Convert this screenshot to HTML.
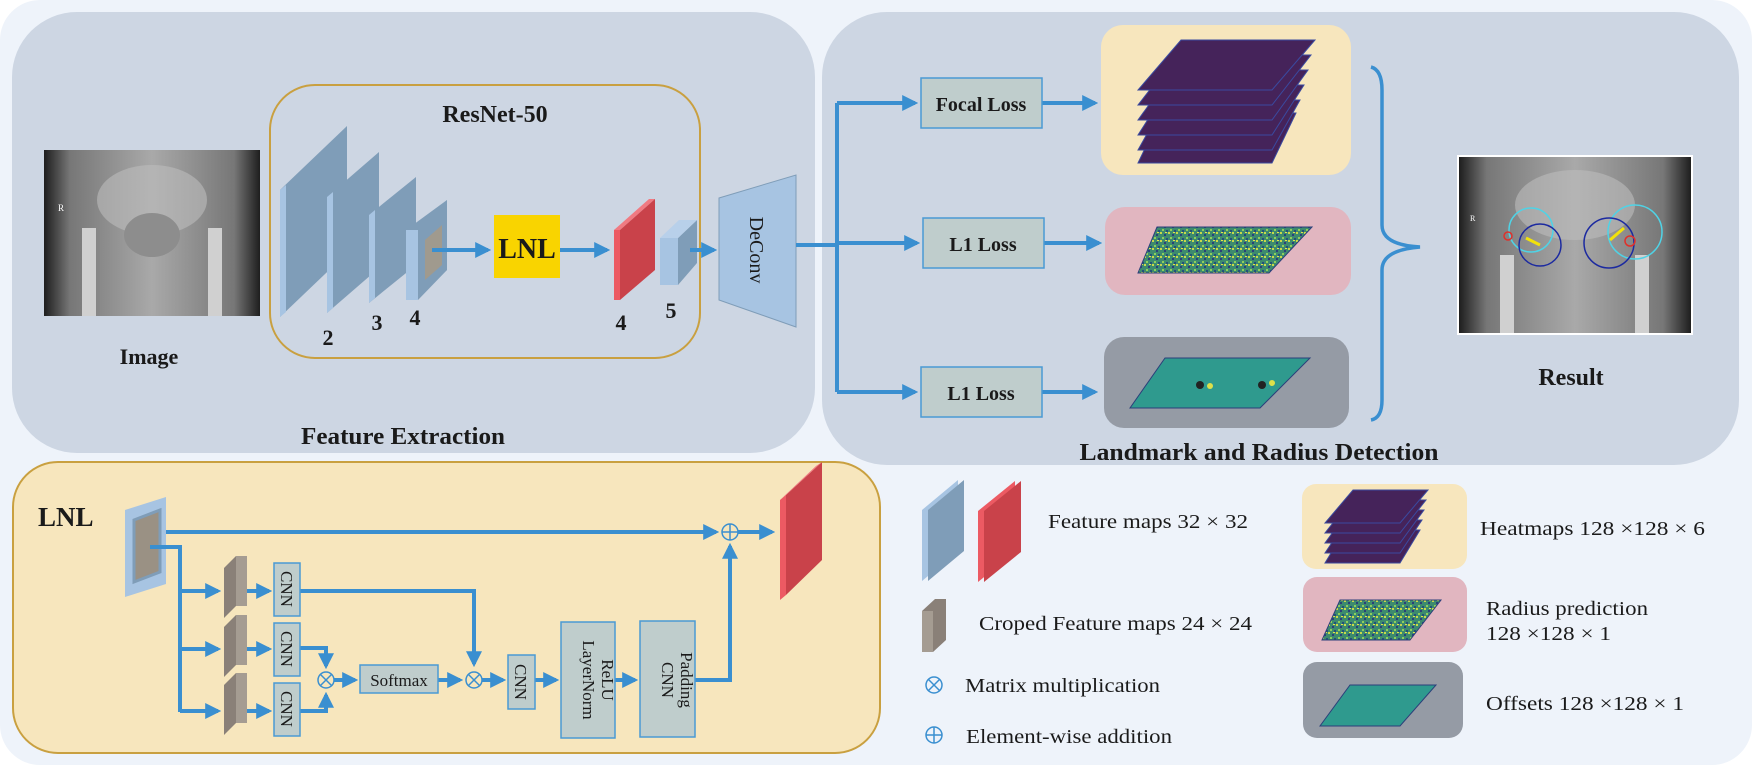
<!DOCTYPE html>
<html><head><meta charset="utf-8"><style>
html,body{margin:0;padding:0;background:#fff}
svg{display:block}
text{font-family:"Liberation Serif",serif;fill:#1a1a1a}
.b{font-weight:bold}
</style></head><body>
<svg width="1755" height="769" viewBox="0 0 1755 769" xmlns="http://www.w3.org/2000/svg">
<defs>
<marker id="ah" markerWidth="4" markerHeight="4" refX="3.2" refY="2" orient="auto" markerUnits="strokeWidth">
<path d="M0,0 L4,2 L0,4 z" fill="#3a8fd0"/></marker>
<pattern id="noise" width="8" height="8" patternUnits="userSpaceOnUse">
<rect width="8" height="8" fill="#3d8a6e"/><rect x="0" y="0" width="2" height="2" fill="#c8d84a"/><rect x="4" y="2" width="2" height="2" fill="#2b3f7a"/><rect x="2" y="5" width="2" height="2" fill="#8fcf5a"/><rect x="6" y="6" width="2" height="2" fill="#23507a"/><rect x="5" y="0" width="2" height="1" fill="#e3e24a"/>
</pattern>
<linearGradient id="xr" x1="0" x2="1"><stop offset="0" stop-color="#1e1e1e"/><stop offset="0.12" stop-color="#777"/><stop offset="0.5" stop-color="#a9a9a9"/><stop offset="0.88" stop-color="#777"/><stop offset="1" stop-color="#1e1e1e"/></linearGradient>
</defs>
<!-- outer bg -->
<rect x="0" y="0" width="1755" height="769" fill="#ffffff"/>
<rect x="0" y="0" width="1752" height="765" rx="40" fill="#eef3fa"/>
<!-- left panel -->
<rect x="12" y="12" width="803" height="441" rx="65" fill="#cdd6e3"/>
<!-- right panel -->
<rect x="822" y="12" width="917" height="453" rx="65" fill="#cdd6e3"/>
<!-- LNL panel -->
<rect x="13" y="462" width="867" height="291" rx="45" fill="#f7e6bd" stroke="#c9a040" stroke-width="2"/>

<!-- ResNet box -->
<rect x="270" y="85" width="430" height="273" rx="45" fill="none" stroke="#c9a040" stroke-width="2"/>
<text x="495" y="122" class="b" font-size="24" text-anchor="middle">ResNet-50</text>

<!-- X-ray input -->
<rect x="44" y="150" width="216" height="166" fill="url(#xr)"/>
<ellipse cx="152" cy="200" rx="55" ry="35" fill="#bcbcbc" opacity="0.6"/>
<ellipse cx="152" cy="235" rx="28" ry="22" fill="#8d8d8d"/>
<rect x="82" y="228" width="14" height="88" fill="#d0d0d0"/><rect x="208" y="228" width="14" height="88" fill="#d0d0d0"/>
<text x="58" y="211" font-family="Liberation Sans" font-size="9" fill="#fff" style="fill:#fff">R</text>
<text x="149" y="364" class="b" font-size="22" text-anchor="middle">Image</text>

<!-- layers -->
<polygon points="280,190 347,126 347,253 280,317" fill="#7f9db8"/><polygon points="280,190 286,185 286,312 280,317" fill="#a7c4e2"/>
<polygon points="327,197 379,152 379,268 327,313" fill="#7f9db8"/><polygon points="327,197 333,192 333,308 327,313" fill="#a7c4e2"/>
<polygon points="369,215 416,177 416,265 369,303" fill="#7f9db8"/><polygon points="369,215 375,210 375,298 369,303" fill="#a7c4e2"/>
<polygon points="406,230 447,200 447,270 406,300" fill="#7f9db8"/><rect x="406" y="230" width="12" height="70" fill="#a7c4e2"/>
<polygon points="418,230 447,200 447,270 418,300" fill="#7f9db8"/>
<polygon points="425,240 442,225 442,265 425,280" fill="#a09a8e"/>
<text x="328" y="345" class="b" font-size="22" text-anchor="middle">2</text>
<text x="377" y="330" class="b" font-size="22" text-anchor="middle">3</text>
<text x="415" y="325" class="b" font-size="22" text-anchor="middle">4</text>
<text x="621" y="330" class="b" font-size="22" text-anchor="middle">4</text>
<text x="671" y="318" class="b" font-size="22" text-anchor="middle">5</text>
<line x1="432" y1="250" x2="488" y2="250" stroke="#3a8fd0" stroke-width="4" marker-end="url(#ah)"/>
<rect x="494" y="215" width="66" height="63" fill="#f9d400"/>
<text x="527" y="258" class="b" font-size="28" text-anchor="middle">LNL</text>
<line x1="560" y1="250" x2="607" y2="250" stroke="#3a8fd0" stroke-width="4" marker-end="url(#ah)"/>
<polygon points="614,230 620,226 620,300 614,300" fill="#ec5a63"/>
<polygon points="614,230 649,199 655,199 620,230" fill="#f07a82"/>
<polygon points="620,230 655,199 655,270 620,300" fill="#c9424a"/>
<rect x="660" y="238" width="18" height="47" fill="#a7c4e2"/>
<polygon points="678,238 697,220 697,263 678,285" fill="#7f9db8"/>
<polygon points="660,238 678,238 697,220 679,220" fill="#b8d0ea"/>
<line x1="690" y1="250" x2="714" y2="250" stroke="#3a8fd0" stroke-width="4" marker-end="url(#ah)"/>
<!-- DeConv -->
<polygon points="719,198 796,175 796,327 719,300" fill="#a7c4e2" stroke="#7f9db8" stroke-width="1"/>
<text transform="translate(750,250) rotate(90)" font-size="20" text-anchor="middle">DeConv</text>
<text x="403" y="444" class="b" font-size="24" text-anchor="middle" textLength="204" lengthAdjust="spacingAndGlyphs">Feature Extraction</text>

<!-- branches -->
<g stroke="#3a8fd0" stroke-width="4" fill="none">
<polyline points="796,245 837,245"/>
<line x1="837" y1="103" x2="837" y2="392"/>
<line x1="837" y1="103" x2="915" y2="103" marker-end="url(#ah)"/>
<line x1="837" y1="243" x2="917" y2="243" marker-end="url(#ah)"/>
<line x1="837" y1="392" x2="915" y2="392" marker-end="url(#ah)"/>
<line x1="1042" y1="103" x2="1095" y2="103" marker-end="url(#ah)"/>
<line x1="1044" y1="243" x2="1099" y2="243" marker-end="url(#ah)"/>
<line x1="1042" y1="392" x2="1095" y2="392" marker-end="url(#ah)"/>
</g>
<g fill="#bfcdcc" stroke="#4a9ad4" stroke-width="1.5">
<rect x="921" y="78" width="121" height="50"/>
<rect x="923" y="218" width="121" height="50"/>
<rect x="921" y="367" width="121" height="50"/>
</g>
<text x="981" y="111" class="b" font-size="20" text-anchor="middle">Focal Loss</text>
<text x="983" y="251" class="b" font-size="20" text-anchor="middle">L1 Loss</text>
<text x="981" y="400" class="b" font-size="20" text-anchor="middle">L1 Loss</text>

<!-- output cards -->
<rect x="1101" y="25" width="250" height="150" rx="22" fill="#f7e6bd"/>
<rect x="1105" y="207" width="246" height="88" rx="20" fill="#e1b6c0"/>
<rect x="1104" y="337" width="245" height="91" rx="20" fill="#959ba5"/>
<g fill="#45235a" stroke="#3a4aa0" stroke-width="1">
<polygon points="1138,163 1272,163 1296,113 1162,113"/>
<polygon points="1138,150 1272,150 1300,100 1166,100"/>
<polygon points="1138,135 1272,135 1304,85 1170,85"/>
<polygon points="1138,120 1272,120 1308,70 1174,70"/>
<polygon points="1138,105 1272,105 1311,55 1177,55"/>
<polygon points="1138,90 1272,90 1315,40 1181,40"/>
</g>
<polygon points="1138,273 1269,273 1312,227 1157,227" fill="url(#noise)" stroke="#2b3f7a"/>
<polygon points="1130,408 1260,408 1310,358 1165,358" fill="#2f9a8e" stroke="#2b3f7a"/>
<circle cx="1200" cy="385" r="4" fill="#222"/><circle cx="1210" cy="386" r="3" fill="#dde04a"/><circle cx="1262" cy="385" r="4" fill="#222"/><circle cx="1272" cy="383" r="3" fill="#dde04a"/>
<!-- brace -->
<path d="M1371,67 Q1382,70 1382,90 L1382,225 Q1382,245 1420,247 Q1382,250 1382,270 L1382,400 Q1382,418 1371,420" fill="none" stroke="#3a8fd0" stroke-width="3.5"/>
<!-- result image -->
<rect x="1457" y="155" width="236" height="180" fill="#fff"/>
<rect x="1459" y="157" width="232" height="176" fill="url(#xr)"/>
<ellipse cx="1575" cy="205" rx="60" ry="35" fill="#bcbcbc" opacity="0.6"/>
<rect x="1500" y="255" width="14" height="78" fill="#d0d0d0"/><rect x="1635" y="255" width="14" height="78" fill="#d0d0d0"/>
<g fill="none" stroke-width="1.5">
<circle cx="1531" cy="230" r="22" stroke="#4fd3e6"/>
<circle cx="1540" cy="245" r="21" stroke="#1c2aa0"/>
<circle cx="1635" cy="232" r="27" stroke="#4fd3e6"/>
<circle cx="1609" cy="243" r="25" stroke="#1c2aa0"/>
<circle cx="1508" cy="236" r="4" stroke="#e0302a"/>
<circle cx="1630" cy="241" r="5" stroke="#e0302a"/>
<line x1="1526" y1="238" x2="1540" y2="245" stroke="#f2e20a" stroke-width="3"/>
<line x1="1624" y1="228" x2="1610" y2="240" stroke="#f2e20a" stroke-width="3"/>
</g>
<text x="1470" y="221" font-family="Liberation Sans" font-size="8" style="fill:#fff">R</text>
<text x="1571" y="385" class="b" font-size="24" text-anchor="middle">Result</text>
<text x="1259" y="460" class="b" font-size="24" text-anchor="middle" textLength="359" lengthAdjust="spacingAndGlyphs">Landmark and Radius Detection</text>

<!-- LNL detail -->
<text x="38" y="526" class="b" font-size="27">LNL</text>
<polygon points="125,510 166,497 166,584 125,597" fill="#a7c4e2"/>
<polygon points="134,520 160,510 160,572 134,582" fill="#9a9184" stroke="#7f9db8" stroke-width="3"/>
<g stroke="#3a8fd0" stroke-width="4" fill="none">
<line x1="166" y1="532" x2="716" y2="532" marker-end="url(#ah)"/>
<line x1="738" y1="532" x2="772" y2="532" marker-end="url(#ah)"/>
<polyline points="150,547 180,547 180,712"/>
<line x1="180" y1="591" x2="218" y2="591" marker-end="url(#ah)"/>
<line x1="180" y1="649" x2="218" y2="649" marker-end="url(#ah)"/>
<line x1="180" y1="711" x2="218" y2="711" marker-end="url(#ah)"/>
<line x1="247" y1="591" x2="269" y2="591" marker-end="url(#ah)"/>
<line x1="247" y1="649" x2="269" y2="649" marker-end="url(#ah)"/>
<line x1="247" y1="711" x2="269" y2="711" marker-end="url(#ah)"/>
<polyline points="300,591 474,591 474,664" marker-end="url(#ah)"/>
<polyline points="300,648 326,648 326,666" marker-end="url(#ah)"/>
<polyline points="300,711 326,711 326,695" marker-end="url(#ah)"/>
<line x1="334" y1="680" x2="355" y2="680" marker-end="url(#ah)"/>
<line x1="438" y1="680" x2="460" y2="680" marker-end="url(#ah)"/>
<line x1="482" y1="680" x2="503" y2="680" marker-end="url(#ah)"/>
<line x1="535" y1="680" x2="556" y2="680" marker-end="url(#ah)"/>
<line x1="615" y1="680" x2="635" y2="680" marker-end="url(#ah)"/>
<polyline points="695,680 730,680 730,546" marker-end="url(#ah)"/>
</g>
<g fill="#8a8078"><polygon points="224,568 236,556 236,606 224,618"/><polygon points="224,627 236,615 236,665 224,677"/><polygon points="224,685 236,673 236,723 224,735"/></g>
<g fill="#a59c92"><rect x="236" y="556" width="11" height="50"/><rect x="236" y="615" width="11" height="50"/><rect x="236" y="673" width="11" height="50"/></g>
<g fill="#bfcdcc" stroke="#4a9ad4" stroke-width="1.5">
<rect x="274" y="563" width="26" height="53"/><rect x="274" y="623" width="26" height="53"/><rect x="274" y="683" width="26" height="53"/>
<rect x="360" y="665" width="78" height="28"/>
<rect x="508" y="655" width="27" height="54"/>
<rect x="561" y="622" width="54" height="116"/>
<rect x="640" y="621" width="55" height="116"/>
</g>
<g font-size="17">
<text transform="translate(281,589) rotate(90)" text-anchor="middle">CNN</text>
<text transform="translate(281,649) rotate(90)" text-anchor="middle">CNN</text>
<text transform="translate(281,709) rotate(90)" text-anchor="middle">CNN</text>
<text transform="translate(515,682) rotate(90)" text-anchor="middle">CNN</text>
<text transform="translate(583,680) rotate(90)" text-anchor="middle">LayerNorm</text>
<text transform="translate(602,680) rotate(90)" text-anchor="middle">ReLU</text>
<text transform="translate(662,680) rotate(90)" text-anchor="middle">CNN</text>
<text transform="translate(681,680) rotate(90)" text-anchor="middle">Padding</text>
<text x="399" y="686" text-anchor="middle">Softmax</text>
</g>
<g fill="#f7e6bd" stroke="#3a8fd0" stroke-width="1.5">
<circle cx="326" cy="680" r="8"/><circle cx="474" cy="680" r="8"/><circle cx="730" cy="532" r="8"/>
</g>
<g stroke="#3a8fd0" stroke-width="1.5">
<line x1="320" y1="674" x2="332" y2="686"/><line x1="332" y1="674" x2="320" y2="686"/>
<line x1="468" y1="674" x2="480" y2="686"/><line x1="480" y1="674" x2="468" y2="686"/>
<line x1="722" y1="532" x2="738" y2="532"/><line x1="730" y1="524" x2="730" y2="540"/>
</g>
<polygon points="780,500 786,495 786,595 780,600" fill="#ec5a63"/>
<polygon points="786,495 822,462 822,560 786,595" fill="#c9424a"/>
<polygon points="780,500 816,466 822,462 786,495" fill="#f07a82"/>

<!-- legend -->
<polygon points="922,510 958,480 958,551 922,581" fill="#a7c4e2"/><polygon points="928,510 964,480 964,551 928,581" fill="#7f9db8"/>
<polygon points="978,511 1015,481 1015,552 978,582" fill="#ec5a63"/><polygon points="984,511 1021,481 1021,552 984,582" fill="#c9424a"/>
<polygon points="922,611 935,599 946,599 946,640 933,652 922,652" fill="#8a8078"/><rect x="922" y="611" width="11" height="41" fill="#a59c92"/>
<g font-size="20">
<text x="1048" y="528" textLength="200" lengthAdjust="spacingAndGlyphs">Feature maps 32 × 32</text>
<text x="979" y="630" textLength="273" lengthAdjust="spacingAndGlyphs">Croped Feature maps 24 × 24</text>
<text x="965" y="692" textLength="195" lengthAdjust="spacingAndGlyphs">Matrix multiplication</text>
<text x="966" y="743" textLength="206" lengthAdjust="spacingAndGlyphs">Element-wise addition</text>
<text x="1480" y="535" textLength="225" lengthAdjust="spacingAndGlyphs">Heatmaps 128 ×128 × 6</text>
<text x="1486" y="615" textLength="162" lengthAdjust="spacingAndGlyphs">Radius prediction</text>
<text x="1486" y="640" textLength="125" lengthAdjust="spacingAndGlyphs">128 ×128 × 1</text>
<text x="1486" y="710" textLength="198" lengthAdjust="spacingAndGlyphs">Offsets 128 ×128 × 1</text>
</g>
<g fill="none" stroke="#3a8fd0" stroke-width="1.5">
<circle cx="934" cy="685" r="8"/><line x1="928" y1="679" x2="940" y2="691"/><line x1="940" y1="679" x2="928" y2="691"/>
<circle cx="934" cy="735" r="8"/><line x1="926" y1="735" x2="942" y2="735"/><line x1="934" y1="727" x2="934" y2="743"/>
</g>
<rect x="1302" y="484" width="165" height="85" rx="14" fill="#f7e6bd"/>
<rect x="1303" y="577" width="164" height="75" rx="14" fill="#e1b6c0"/>
<rect x="1303" y="662" width="160" height="76" rx="14" fill="#959ba5"/>
<g fill="#45235a" stroke="#3a4aa0" stroke-width="1">
<polygon points="1325,563 1400,563 1420,530 1345,530"/>
<polygon points="1325,553 1400,553 1422,520 1347,520"/>
<polygon points="1325,543 1400,543 1424,510 1349,510"/>
<polygon points="1325,533 1400,533 1426,500 1351,500"/>
<polygon points="1325,523 1400,523 1428,490 1353,490"/>
</g>
<polygon points="1322,640 1410,640 1441,600 1340,600" fill="url(#noise)" stroke="#2b3f7a"/>
<polygon points="1320,726 1400,726 1436,685 1350,685" fill="#2f9a8e" stroke="#2b3f7a"/>
</svg>
</body></html>
